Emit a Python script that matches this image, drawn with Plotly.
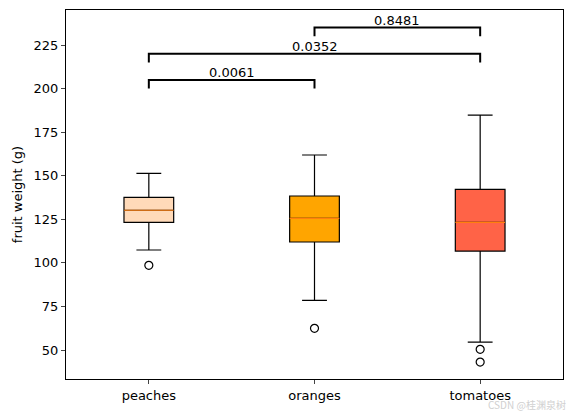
import plotly.graph_objects as go

# box statistics (grams)
fruits = ['peaches', 'oranges', 'tomatoes']
colors = ['peachpuff', 'orange', 'tomato']
lower_whisker = [107.4, 78.5, 54.6]
q1 = [123.3, 112.0, 106.8]
median = [130.2, 125.6, 123.3]
q3 = [137.6, 138.4, 142.2]
upper_whisker = [151.4, 161.9, 184.8]
outliers = [[98.6], [62.5], [50.4, 43.1]]

# significance brackets: (left box, right box, bottom, top, p-value)
pairs = [(1, 2), (1, 3), (2, 3)]
bracket_base = [200, 215, 230]
bracket_top = [205, 220, 235]
p_values = ['0.0061', '0.0352', '0.8481']

box_width = 0.3
positions = [1, 2, 3]

fig = go.Figure()

for i, name in enumerate(fruits):
    x = positions[i]
    fig.add_trace(go.Box(
        x=[x], q1=[q1[i]], median=[median[i]], q3=[q3[i]],
        lowerfence=[lower_whisker[i]], upperfence=[upper_whisker[i]],
        width=box_width, whiskerwidth=0.5,
        fillcolor=colors[i], line=dict(color='black', width=1.2),
        name=name, showlegend=False, hoverinfo='skip',
    ))
    # matplotlib draws the median in C1 orange
    fig.add_trace(go.Scatter(
        x=[x - box_width / 2, x + box_width / 2], y=[median[i], median[i]],
        mode='lines', line=dict(color='#ff7f0e', width=1.2),
        showlegend=False, hoverinfo='skip',
    ))
    fig.add_trace(go.Scatter(
        x=[x] * len(outliers[i]), y=outliers[i], mode='markers',
        marker=dict(symbol='circle-open', size=8, color='black', line=dict(width=1.2)),
        showlegend=False, hoverinfo='skip',
    ))

for (a, b), lo, hi, p in zip(pairs, bracket_base, bracket_top, p_values):
    fig.add_trace(go.Scatter(
        x=[a, a, b, b], y=[lo, hi, hi, lo], mode='lines',
        line=dict(color='black', width=2),
        showlegend=False, hoverinfo='skip',
    ))
    fig.add_annotation(
        x=(a + b) / 2, y=hi, text=p, showarrow=False,
        yanchor='bottom', yshift=-2, font=dict(size=13, color='black'),
    )

fig.add_annotation(
    x=1, y=0, xref='paper', yref='paper', text='CSDN @桂渊泉树',
    showarrow=False, xanchor='right', yanchor='middle', xshift=5, yshift=-25,
    font=dict(size=10, color='#d0d0d0', family='Noto Sans CJK SC'),
)

fig.update_layout(
    width=571, height=413,
    margin=dict(l=66, r=8, t=10, b=34),
    plot_bgcolor='white', paper_bgcolor='white',
    font=dict(family='DejaVu Sans', size=13, color='black'),
    xaxis=dict(
        range=[0.5, 3.5], tickvals=positions, ticktext=fruits,
        showgrid=False, zeroline=False, showline=True, mirror=True,
        linecolor='black', linewidth=1, ticks='outside', ticklen=4,
        automargin=False,
    ),
    yaxis=dict(
        range=[33.4, 245.1], tickvals=[50, 75, 100, 125, 150, 175, 200, 225],
        showgrid=False, zeroline=False, showline=True, mirror=True,
        linecolor='black', linewidth=1, ticks='outside', ticklen=4,
        title=dict(text='fruit weight (g)', standoff=8, font=dict(size=13)),
        automargin=False,
    ),
)

# the page's default body margin would push the figure 8px down and right
fig.write_html('out.html', config={'displayModeBar': False},
               post_script="document.body.style.margin='0';")
